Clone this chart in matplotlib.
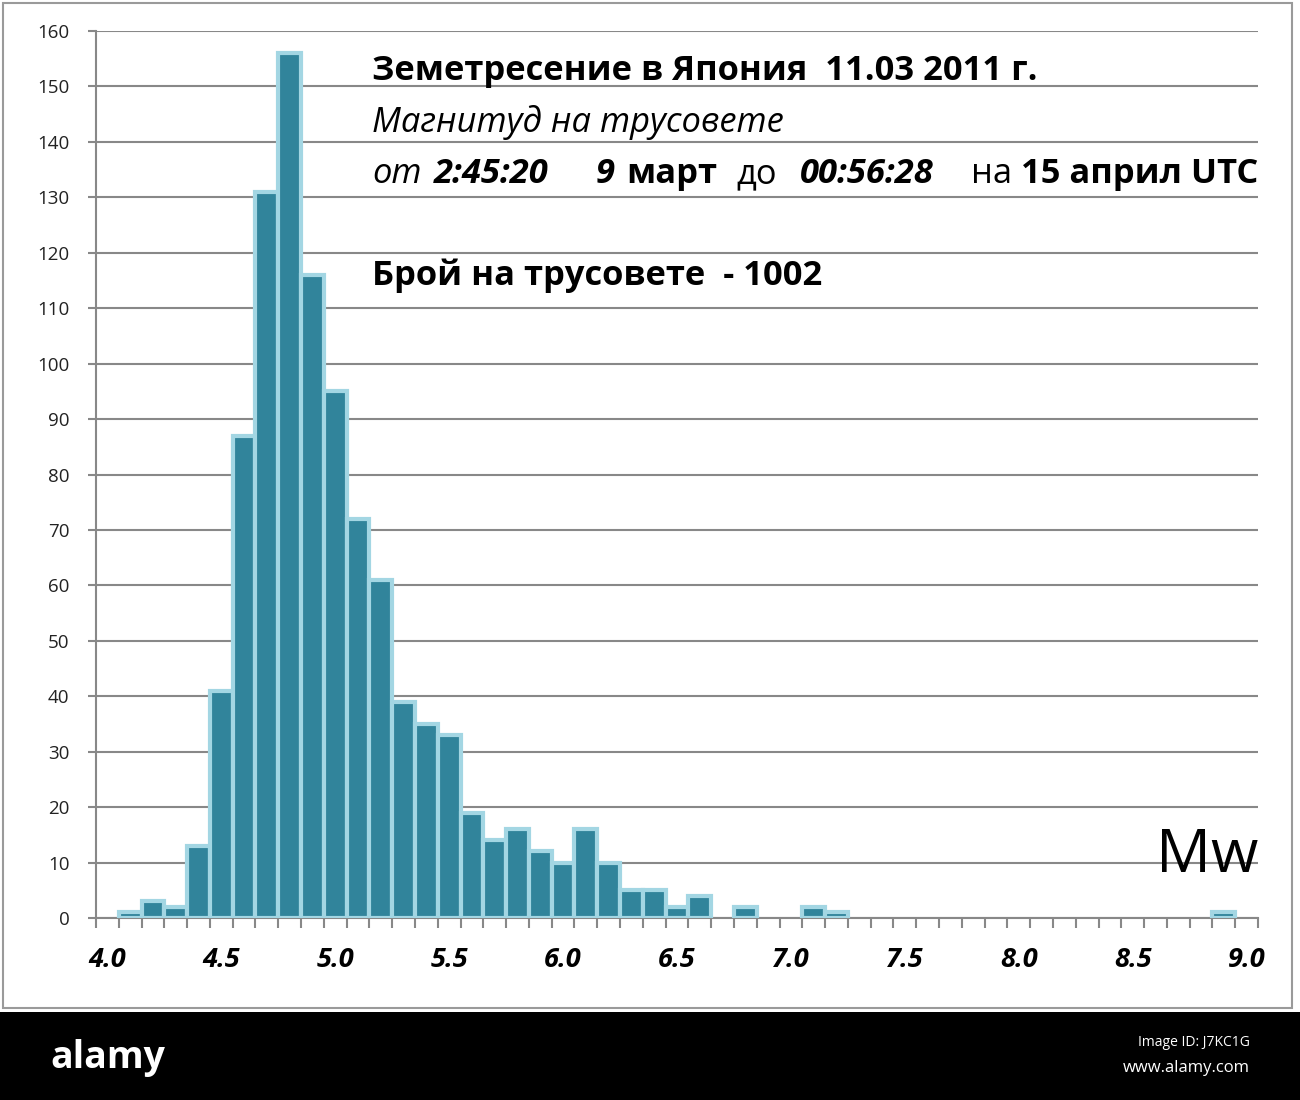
import numpy as np
import matplotlib
matplotlib.use('Agg')
import matplotlib.pyplot as plt
from matplotlib.patches import Rectangle

# magnitude classes (Mw) and number of shocks
mags = [4.1, 4.2, 4.3, 4.4, 4.5, 4.6, 4.7, 4.8, 4.9, 5.0,
        5.1, 5.2, 5.3, 5.4, 5.5, 5.6, 5.7, 5.8, 5.9, 6.0,
        6.1, 6.2, 6.3, 6.4, 6.5, 6.6, 6.8, 7.1, 7.2, 8.9]
counts = [1, 3, 2, 13, 41, 87, 131, 156, 116, 95,
          72, 61, 39, 35, 33, 19, 14, 16, 12, 10,
          16, 10, 5, 5, 2, 4, 2, 2, 1, 1]

xticks = [4.0, 4.5, 5.0, 5.5, 6.0, 6.5, 7.0, 7.5, 8.0, 8.5, 9.0]
yticks = list(range(0, 161, 10))

plt.rcParams['font.family'] = ['Open Sans', 'DejaVu Sans']

fig = plt.figure(figsize=(13, 11), dpi=100)
ax = fig.add_axes([96 / 1300, 1 - 918 / 1100, 1162 / 1300, 887 / 1100])

ax.bar(mags, counts, width=0.1, color='#31849B', edgecolor='#A3D6E3',
       linewidth=3, zorder=3)

ax.set_xlim(3.95, 9.05)
ax.set_ylim(0, 160)
ax.set_yticks(yticks)
ax.set_yticklabels([str(v) for v in yticks], fontsize=13.5, color='#222222')
ax.set_xticks(xticks)
ax.set_xticklabels([f'{v:.1f}' for v in xticks], fontsize=19.5,
                   fontweight='bold', fontstyle='italic')
ax.set_xticks(np.arange(3.95, 9.06, 0.1), minor=True)
ax.tick_params(axis='x', which='major', length=0, pad=21)
ax.tick_params(axis='x', which='minor', length=7, width=1.5, color='#888888')
ax.tick_params(axis='y', length=6, width=1.5, color='#888888', pad=13)

ax.grid(axis='y', color='#888888', linewidth=1.5, zorder=0)
for s in ['top', 'right']:
    ax.spines[s].set_visible(False)
for s in ['left', 'bottom']:
    ax.spines[s].set_color('#888888')
    ax.spines[s].set_linewidth(1.5)

tx = 372 / 1300
fs = 24.8
fig.text(tx, 1 - 80 / 1100, 'Земетресение в Япония  11.03 2011 г.', fontsize=fs,
         fontweight='bold', va='baseline')
fig.text(tx, 1 - 132 / 1100, 'Магнитуд на трусовете', fontsize=fs,
         fontstyle='italic', va='baseline')

# third line: pieces in mixed styles, placed where they sit in the original
line3 = [('от', 372, 'normal', 'italic'),
         ('2:45:20', 434, 'bold', 'italic'),
         ('9', 596, 'bold', 'italic'),
         ('март', 626, 'bold', 'normal'),
         ('до', 736, 'normal', 'normal'),
         ('00:56:28', 800, 'bold', 'italic'),
         ('на', 971, 'normal', 'normal'),
         ('15 април UTC', 1021, 'bold', 'normal')]
for s, px, w, st in line3:
    fig.text(px / 1300, 1 - 183 / 1100, s, fontsize=fs, fontweight=w,
             fontstyle=st, va='baseline')

fig.text(tx, 1 - 285 / 1100, 'Брой на трусовете  - 1002', fontsize=fs,
         fontweight='bold', va='baseline')

fig.text(1258 / 1300, 1 - 872 / 1100, 'Mw', fontsize=44, ha='right',
         va='baseline')

# outer frame and bottom band
fig.patches.append(Rectangle((3 / 1300, 1 - 1008 / 1100), 1289 / 1300, 1005 / 1100,
                             transform=fig.transFigure, fill=False,
                             edgecolor='#9A9A9A', linewidth=1.5))
fig.patches.append(Rectangle((0, 0), 1, 88 / 1100, transform=fig.transFigure,
                             facecolor='black', edgecolor='none'))
fig.text(50 / 1300, 1 - 1058 / 1100, 'alamy', color='white', fontsize=27,
         fontweight='bold', va='center', ha='left')
fig.text(1250 / 1300, 1 - 1043 / 1100, 'Image ID: J7KC1G', color='white',
         fontsize=10, ha='right', va='center')
fig.text(1250 / 1300, 1 - 1068 / 1100, 'www.alamy.com', color='white',
         fontsize=12, ha='right', va='center')

fig.savefig('out.png', dpi=100)
